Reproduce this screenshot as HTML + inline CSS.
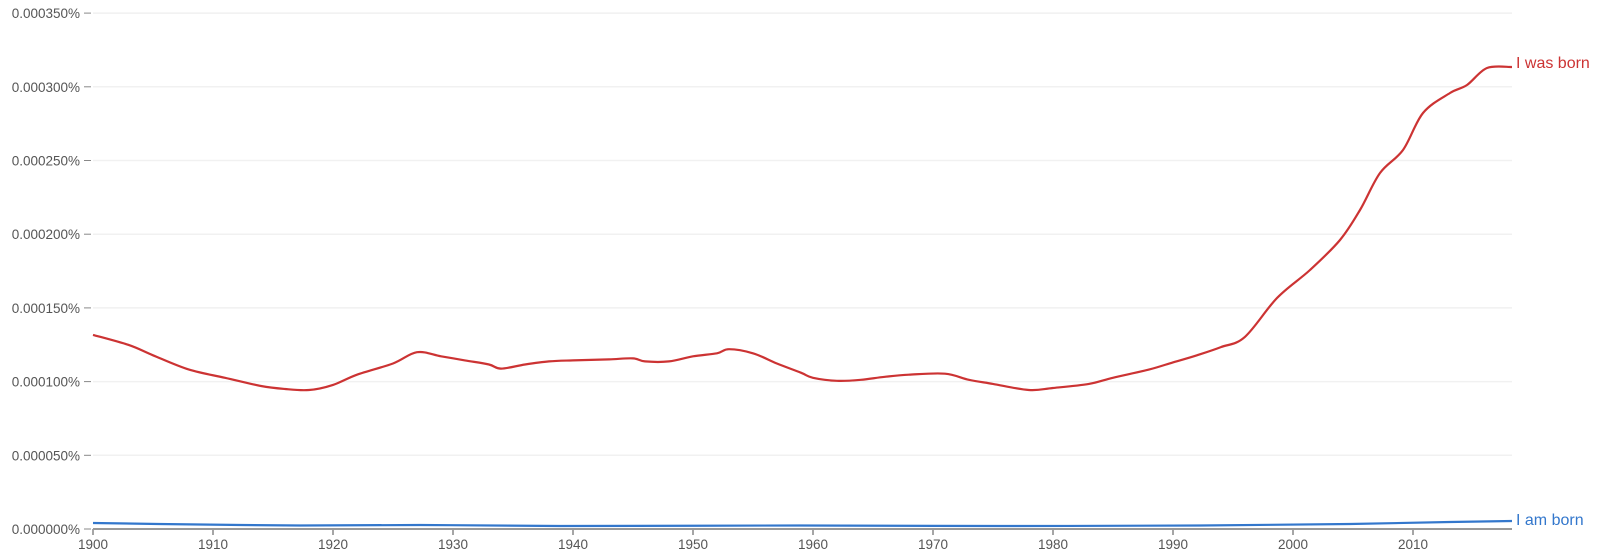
<!DOCTYPE html>
<html><head><meta charset="utf-8"><style>
html,body{margin:0;padding:0;background:#fff;width:1601px;height:554px;overflow:hidden}
svg{display:block;font-family:"Liberation Sans",sans-serif}
</style></head><body>
<svg id="c" width="1601" height="554" xmlns="http://www.w3.org/2000/svg">
<g id="grid"></g>
<path id="red" fill="none" stroke="#cc3333" stroke-width="2.2" stroke-linejoin="round"/>
<path id="blue" fill="none" stroke="#3377cc" stroke-width="2.2" stroke-linejoin="round"/>
<line x1="93" y1="529" x2="1512" y2="529" stroke="#999" stroke-width="2"/>
<text x="1516" y="68" fill="#cc3333" font-size="16">I was born</text>
<text x="1516" y="525" fill="#3377cc" font-size="16">I am born</text>
</svg>
<script>
var NS="http://www.w3.org/2000/svg",g=document.getElementById('grid');
function el(t,a,txt){var e=document.createElementNS(NS,t);for(var k in a)e.setAttribute(k,a[k]);if(txt)e.textContent=txt;g.appendChild(e);}
var labs=["0.000000%","0.000050%","0.000100%","0.000150%","0.000200%","0.000250%","0.000300%","0.000350%"];
for(var i=0;i<8;i++){var y=529-i*73.7;
 if(i>0)el('line',{x1:93,x2:1512,y1:y,y2:y,stroke:'#f1f1f1','stroke-width':1.5});
 el('line',{x1:84,x2:91,y1:y,y2:y,stroke:'#888','stroke-width':1});
 el('text',{x:80,y:y+5,'text-anchor':'end','font-size':13.5,fill:'#555'},labs[i]);}
for(var yr=1900;yr<=2010;yr+=10){var x=93+(yr-1900)*12;
 el('line',{x1:x,x2:x,y1:529,y2:535,stroke:'#888','stroke-width':1.5});
 el('text',{x:x,y:549,'text-anchor':'middle','font-size':13.5,fill:'#555'},String(yr));}
function X(px){return 93+(px-92)*1320/1286}
function Y(py){return 13+(py-13)*516/505}
function yrX(yr){return 92+(yr-1900)*11.69}
var d=[[1900,328],[1903,338],[1905,348],[1908,362],[1911,370],[1914,378],[1916,381],[1918,382],[1920,377],[1922,367],[1925,356],[1927,345],[1929,349],[1931,353],[1933,357],[1934,361],[1936,357],[1938,354],[1940,353],[1943,352],[1945,351],[1946,354],[1948,354],[1950,349],[1952,346],[1953,342],[1955,346],[1957,356],[1959,365],[1960,370],[1962,373],[1964,372],[1966,369],[1968,367],[1971,366],[1973,372],[1975,376],[1978,382],[1980,380],[1983,376],[1985,370],[1988,362],[1990,355],[1992,348],[1994,340],[1996,330]];
var pts=d.map(function(p){return [X(yrX(p[0])),Y(p[1])]});
pts=pts.concat([[1277,298],[1310,270],[1340,240],[1360,210],[1380,173],[1403,150],[1423,113],[1450,93],[1467,85],[1487,68],[1512,67]]);
function path(p){var s="M"+p[0][0].toFixed(1)+","+p[0][1].toFixed(1);
 for(var i=0;i<p.length-1;i++){var p0=p[i-1]||p[i],p1=p[i],p2=p[i+1],p3=p[i+2]||p2;
  s+="C"+(p1[0]+(p2[0]-p0[0])/6).toFixed(1)+","+(p1[1]+(p2[1]-p0[1])/6).toFixed(1)+" "+(p2[0]-(p3[0]-p1[0])/6).toFixed(1)+","+(p2[1]-(p3[1]-p1[1])/6).toFixed(1)+" "+p2[0].toFixed(1)+","+p2[1].toFixed(1);}
 return s;}
document.getElementById('red').setAttribute('d',path(pts));
var b=[[93,523],[200,524.5],[300,525.5],[420,525],[560,526],[800,525.5],[1000,526],[1200,525.5],[1350,524],[1450,522],[1512,521]];
document.getElementById('blue').setAttribute('d',path(b));
</script>
</body></html>
